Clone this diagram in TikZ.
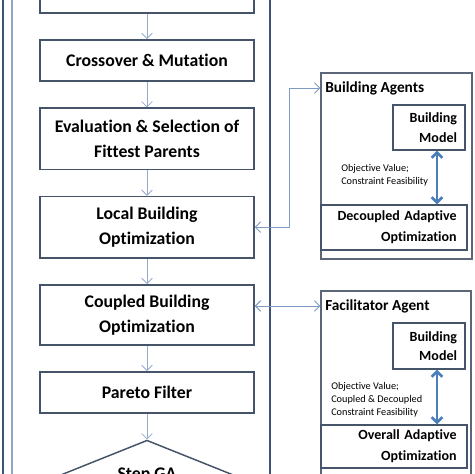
\documentclass[tikz,border=0pt]{standalone}
\usepackage{fontspec}
\setmainfont{Carlito}[Ligatures=CommonOff]
\usepackage{xcolor}
\usetikzlibrary{arrows.meta,positioning,shapes.geometric}
\definecolor{frameBlue}{HTML}{3B5477}
\definecolor{boxGray}{HTML}{46546A}
\definecolor{flowBlue}{HTML}{93ABCB}
\definecolor{linkBlue}{HTML}{7E9BC1}
\definecolor{agentGray}{HTML}{5B6679}
\definecolor{swapBlue}{HTML}{4A7EBB}
\tikzset{
  stepbox/.style={rectangle, draw=boxGray, line width=1.1pt, align=center, minimum width=160.5pt, minimum height=31pt, font=\fontsize{13.3}{18.75}\selectfont\bfseries},
  tallbox/.style={stepbox, minimum height=46pt},
  agentbox/.style={rectangle, draw=agentGray, line width=0.9pt},
  innerbox/.style={rectangle, draw=boxGray, line width=0.9pt, align=right, inner ysep=0pt, font=\fontsize{10.5}{14.5}\selectfont\bfseries},
  flow/.style={-{Straight Barb[length=4pt,width=8pt]}, line width=0.6pt, draw=flowBlue},
  link/.style={{Straight Barb[length=4pt,width=8pt]}-{Straight Barb[length=4pt,width=8pt]}, line width=0.7pt, draw=linkBlue},
  swap/.style={{Straight Barb[length=4pt,width=8pt]}-{Straight Barb[length=4pt,width=8pt]}, line width=2pt, draw=swapBlue},
  note/.style={anchor=west, align=left, inner sep=0pt, font=\fontsize{7.7}{9.75}\selectfont}
}

\begin{document}
\begin{tikzpicture}[x=0.75pt, y=-0.75pt, node distance=19.15pt]
  \useasboundingbox (0,0) rectangle (474,474);
  \clip (0,0) rectangle (474,474);
  % GA loop
  \draw[draw=frameBlue, line width=1.8pt] (3,-60) rectangle (270,540);
  \node[stepbox] (cross) at (147,60.5) {Crossover \& Mutation};
  \node[stepbox, above=of cross] (init) {};
  \node[tallbox, below=of cross] (eval) {Evaluation \& Selection of\\Fittest Parents};
  \node[tallbox, below=of eval] (local) {Local Building\\Optimization};
  \node[tallbox, minimum height=45pt, below=of local] (coupled) {Coupled Building\\Optimization};
  \node[stepbox, below=of coupled] (pareto) {Pareto Filter};
  \node[diamond, aspect=3, draw=boxGray, line width=1.1pt, below=of pareto, minimum width=130.5pt, minimum height=52.5pt, inner sep=0pt, font=\fontsize{13.3}{15}\selectfont\bfseries] (stepga) {Step GA};
  \coordinate (fbtop) at (12,-60);
  \draw[flow] (init) -- (cross);
  \draw[flow] (cross) -- (eval);
  \draw[flow] (eval) -- (local);
  \draw[flow] (local) -- (coupled);
  \draw[flow] (coupled) -- (pareto);
  \draw[flow] (pareto) -- (stepga);
  \draw[draw=flowBlue!90!gray, line width=0.8pt] (stepga.west) -| (fbtop);
  % building agents
  \node[agentbox, minimum width=113.25pt, minimum height=139.5pt] (agents) at (396.5,166) {};
  \node[anchor=west, inner sep=0pt, font=\fontsize{11.5}{14}\selectfont\bfseries] (agtitle) at (325,88) {Building Agents};
  \node[innerbox, text width=42pt, inner xsep=6pt, minimum height=33.75pt] (bamodel) at (429,127.5) {Building\\Model};
  \node[innerbox, text width=94pt, inner xsep=7.75pt, minimum height=33.75pt, font=\fontsize{10.5}{15.75}\selectfont\bfseries] (badec) at (394,227.5) {Decoupled Adaptive\\Optimization};
  \node[note] (baobj) at (341,175.5) {Objective Value;\\Constraint Feasibility};
  \draw[swap] ([xshift=6pt]bamodel.south) -- ([xshift=6pt]bamodel.south |- badec.north);
  \draw[link] (agtitle.west -| agents.west) -- ++(-31,0) |- (local.east);
  % facilitator agent
  \node[agentbox, minimum width=112.5pt, minimum height=180pt] (facil) at (396,411) {};
  \node[anchor=west, inner sep=0pt, font=\fontsize{11.5}{14}\selectfont\bfseries] (fctitle) at (325,306) {Facilitator Agent};
  \node[innerbox, text width=42pt, inner xsep=6pt, minimum height=34.5pt] (fcmodel) at (429,346) {Building\\Model};
  \node[innerbox, text width=94pt, inner xsep=7.75pt, minimum height=32.25pt, font=\fontsize{10.5}{15.75}\selectfont\bfseries] (fcover) at (394,446.5) {Overall Adaptive\\Optimization};
  \node[note] (fcobj) at (331,400) {Objective Value;\\Coupled \& Decoupled\\Constraint Feasibility};
  \draw[swap] ([xshift=6pt]fcmodel.south) -- ([xshift=6pt]fcmodel.south |- fcover.north);
  \draw[link] (fctitle.west -| facil.west) -- (fctitle.west -| coupled.east);
\end{tikzpicture}
\end{document}
